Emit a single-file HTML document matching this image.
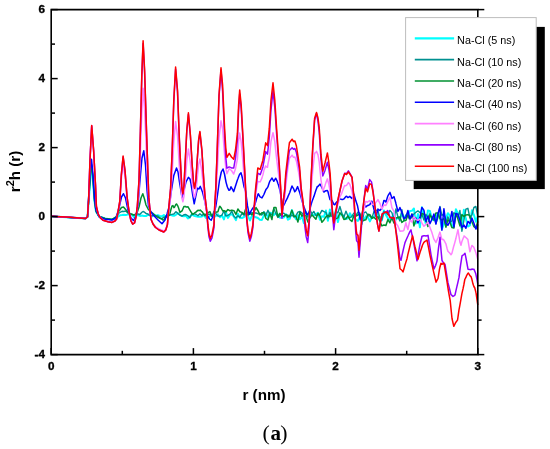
<!DOCTYPE html>
<html><head><meta charset="utf-8"><title>r2h(r)</title>
<style>
html,body{margin:0;padding:0;background:#fff;}
body{width:550px;height:449px;overflow:hidden;font-family:"Liberation Sans",sans-serif;}
svg{display:block;}
svg text{font-family:"Liberation Sans",sans-serif;font-weight:bold;font-size:11.7px;fill:#000;}
svg g.tl text{stroke:#000;stroke-width:0.35px;}
svg text.lg{font-weight:normal;font-size:10.8px;}
svg text.ttl{font-size:15.2px;}
svg text.cap{font-family:"Liberation Serif",serif;font-weight:normal;font-size:18.5px;}
</style></head><body>
<svg width="550" height="449" viewBox="0 0 550 449">
<rect x="0" y="0" width="550" height="449" fill="#fff"/>
<g>
<path d="M51.2,216.3 L85.6,218.4 L87.5,217.0 L89.0,197.0 L90.5,176.0 L91.7,168.0 L93.0,181.0 L94.5,201.0 L96.0,211.5 L99.0,216.5 L105.0,218.5 L112.0,219.5 L115.9,218.0 L116.0,218.0 L117.9,216.6 L119.9,215.4 L120.0,215.3 L121.9,215.1 L123.9,214.8 L124.0,214.8 L125.9,215.1 L127.9,214.4 L129.9,214.2 L130.0,214.2 L131.9,214.7 L133.9,217.1 L135.9,215.6 L137.9,215.0 L139.9,215.9 L141.9,215.6 L143.9,216.0 L145.9,216.1 L147.9,214.8 L149.9,214.9 L151.9,216.5 L153.9,214.7 L155.9,215.8 L157.9,215.1 L159.9,216.0 L161.9,216.4 L163.9,215.0 L165.9,216.8 L167.9,214.9 L169.9,214.9 L171.9,215.4 L173.9,215.8 L175.9,214.8 L177.9,213.2 L179.9,214.8 L181.9,216.0 L183.9,216.3 L185.9,215.8 L187.9,218.5 L189.9,216.5 L191.9,214.7 L193.9,215.7 L195.9,216.3 L197.9,216.7 L199.9,216.8 L201.9,216.5 L203.9,215.0 L205.9,217.9 L207.9,217.5 L209.9,215.9 L211.9,215.2 L213.9,217.0 L215.9,215.9 L217.9,214.2 L219.9,217.3 L221.9,215.6 L223.9,219.4 L225.9,212.1 L227.9,217.9 L229.9,214.9 L231.9,214.2 L233.9,216.7 L235.9,220.1 L237.9,213.7 L239.9,217.8 L241.9,218.1 L243.9,217.0 L245.9,214.7 L247.9,215.5 L249.9,220.5 L251.9,215.6 L253.9,216.6 L255.9,217.2 L257.9,218.0 L259.9,219.7 L261.9,219.9 L263.9,215.4 L265.9,213.3 L267.9,217.3 L269.9,212.6 L271.9,213.4 L273.9,214.9 L275.9,213.1 L277.9,214.4 L279.9,217.7 L281.9,217.7 L283.9,217.4 L285.9,214.2 L287.9,219.7 L289.9,218.6 L291.9,210.1 L293.9,215.4 L295.9,219.1 L297.9,215.2 L299.9,219.3 L301.9,216.2 L303.9,223.2 L305.9,215.6 L307.9,213.5 L309.9,216.4 L311.9,214.0 L313.9,215.2 L315.9,214.2 L317.9,212.7 L319.9,219.7 L321.9,216.2 L323.9,216.9 L325.9,210.5 L327.9,220.8 L329.9,209.5 L331.9,215.4 L333.9,216.4 L335.9,210.2 L337.9,222.0 L339.9,213.9 L341.9,214.2 L343.9,216.9 L345.9,219.2 L347.9,218.3 L349.9,213.2 L351.9,216.9 L353.9,216.0 L355.9,220.0 L357.9,220.9 L359.9,216.4 L361.9,217.6 L363.9,220.1 L365.9,216.3 L367.9,217.2 L369.9,221.4 L371.9,217.0 L373.9,217.6 L375.9,213.8 L377.9,214.7 L379.9,216.6 L381.9,220.4 L383.9,210.5 L385.9,215.0 L387.9,218.2 L389.9,219.8 L391.9,217.2 L393.9,213.7 L395.9,219.7 L397.9,217.3 L399.9,218.7 L400.0,218.4 L401.9,213.2 L403.9,217.7 L405.9,215.6 L407.9,214.7 L409.9,210.9 L411.9,210.8 L413.9,208.5 L415.9,223.6 L417.9,213.9 L419.9,227.3 L421.9,207.3 L423.9,216.0 L425.9,224.2 L427.9,210.6 L429.9,210.9 L431.9,219.3 L433.9,220.3 L435.9,217.9 L437.9,213.3 L439.9,217.0 L441.9,229.1 L443.9,224.2 L445.9,218.4 L447.9,213.2 L449.9,215.9 L451.9,227.2 L453.9,224.5 L455.9,209.2 L457.9,213.7 L459.9,221.6 L461.9,229.0 L463.9,209.7 L465.9,219.1 L467.9,226.5 L469.9,225.4 L471.9,210.3 L473.9,214.8 L475.9,221.7 L477.8,216.0" fill="none" stroke="#00ffff" stroke-width="2.0" stroke-linejoin="round"/>
<path d="M51.2,216.3 L85.6,218.4 L87.5,217.0 L89.0,196.0 L90.5,174.0 L91.7,166.0 L93.0,180.0 L94.5,201.0 L96.0,211.5 L99.0,216.5 L105.0,218.5 L112.0,219.5 L115.9,217.5 L116.0,217.5 L117.9,214.6 L119.0,213.0 L119.9,212.5 L121.9,211.3 L122.0,211.2 L123.9,211.5 L125.0,211.1 L125.9,211.2 L127.9,213.0 L128.0,213.0 L129.9,214.0 L131.9,214.3 L132.0,214.3 L133.9,215.3 L135.9,214.3 L137.0,214.2 L137.9,213.8 L139.9,214.5 L140.0,214.3 L141.9,212.3 L143.0,211.5 L143.9,211.7 L145.9,213.4 L146.0,213.5 L147.9,214.0 L149.9,215.6 L150.0,215.6 L151.9,215.8 L153.9,215.4 L155.9,215.7 L157.9,216.0 L158.0,216.1 L159.9,218.0 L161.9,218.8 L163.9,216.9 L165.0,217.3 L165.9,217.3 L167.9,216.5 L169.9,215.0 L170.0,214.9 L171.9,214.4 L173.9,214.0 L175.9,211.8 L176.0,211.8 L177.9,213.4 L179.9,215.2 L181.9,216.1 L182.0,216.1 L183.9,214.7 L185.9,214.5 L187.9,215.8 L189.9,217.7 L191.9,213.7 L193.9,213.9 L195.9,214.3 L197.9,215.7 L199.9,213.7 L201.9,215.6 L203.9,213.8 L205.9,215.8 L207.9,214.4 L209.9,214.2 L211.9,216.2 L213.9,213.0 L215.9,213.6 L217.9,216.1 L219.9,216.1 L221.9,215.2 L223.9,211.0 L225.9,216.1 L227.9,215.4 L229.9,214.2 L231.9,211.2 L233.9,216.3 L235.9,218.1 L237.9,215.7 L239.9,217.4 L241.9,213.4 L243.9,215.1 L245.9,213.4 L247.9,212.4 L249.9,214.0 L251.9,212.7 L253.9,213.0 L255.9,213.0 L257.9,213.7 L259.9,214.0 L261.9,215.0 L263.9,211.7 L265.9,215.4 L267.9,210.2 L269.9,214.8 L271.9,214.8 L273.9,208.7 L275.9,213.7 L277.9,217.5 L279.9,215.8 L281.9,213.2 L283.9,213.1 L285.9,215.4 L287.9,215.0 L289.9,216.9 L291.9,214.9 L293.9,217.1 L295.9,215.7 L297.9,212.2 L299.9,211.5 L300.0,211.5 L301.9,212.9 L303.9,215.8 L305.9,211.8 L307.9,217.3 L309.9,209.7 L311.9,213.7 L313.9,211.5 L315.9,215.6 L317.9,215.0 L319.9,214.1 L321.9,210.4 L323.9,211.6 L325.9,212.3 L327.9,218.1 L329.9,212.4 L331.9,216.4 L333.9,218.0 L335.9,211.6 L337.9,212.8 L339.9,206.5 L341.9,213.2 L343.9,217.4 L345.9,211.1 L347.9,216.1 L349.9,217.8 L351.9,216.2 L353.9,213.0 L355.9,215.7 L357.9,212.1 L359.9,213.1 L361.9,224.2 L363.9,212.7 L365.9,212.0 L367.9,215.5 L369.9,216.0 L371.9,218.1 L373.9,211.6 L375.9,210.3 L377.9,210.6 L379.9,218.2 L381.9,219.7 L383.9,211.5 L385.9,212.6 L387.9,214.8 L389.9,210.4 L391.9,212.6 L393.9,219.5 L395.9,209.0 L397.9,216.8 L399.9,220.9 L400.0,220.3 L401.9,209.6 L403.9,220.7 L405.9,215.2 L407.9,212.5 L409.9,219.9 L411.9,215.8 L413.9,214.1 L415.9,212.3 L417.9,210.9 L419.9,212.5 L421.9,214.3 L423.9,220.1 L425.9,214.4 L427.9,217.6 L429.9,213.7 L431.9,218.8 L433.9,215.7 L435.9,223.5 L437.9,217.7 L439.9,206.5 L441.9,215.6 L443.9,213.8 L445.9,222.2 L447.9,216.7 L449.9,221.8 L451.9,221.2 L453.9,212.7 L455.9,214.9 L457.9,217.1 L459.9,210.4 L461.9,231.2 L463.9,220.3 L465.9,209.2 L467.9,208.3 L469.9,218.0 L471.9,214.9 L473.9,207.5 L475.9,206.5 L477.8,217.1" fill="none" stroke="#009090" stroke-width="1.4" stroke-linejoin="round"/>
<path d="M51.2,216.3 L85.6,218.4 L87.5,217.0 L89.0,195.0 L90.5,172.0 L91.7,164.7 L93.0,178.0 L94.5,200.0 L96.0,211.0 L99.0,216.5 L105.0,218.5 L112.0,219.5 L116.0,217.0 L119.0,211.0 L121.5,207.5 L123.5,207.0 L126.0,210.0 L128.0,212.5 L131.0,214.0 L134.0,215.0 L137.0,213.0 L139.0,207.0 L141.0,198.0 L142.8,193.7 L144.5,199.0 L146.0,205.0 L148.2,209.2 L151.0,212.0 L151.9,212.7 L153.7,214.1 L153.9,214.2 L155.9,216.1 L157.9,217.3 L158.0,217.4 L159.9,218.3 L161.9,219.0 L162.8,219.9 L163.9,219.8 L165.9,216.2 L166.0,216.1 L167.9,215.7 L169.2,215.2 L169.9,213.5 L171.0,209.2 L171.9,206.2 L172.9,205.5 L173.9,207.6 L174.5,207.3 L175.9,204.3 L176.5,204.0 L177.9,206.2 L178.5,207.7 L179.9,212.3 L180.0,212.4 L181.9,210.9 L182.0,211.0 L183.9,206.6 L184.0,206.5 L185.7,206.4 L185.9,206.9 L187.5,206.8 L187.9,206.7 L189.9,210.1 L190.2,210.6 L191.9,213.4 L192.9,214.4 L193.9,213.5 L195.0,212.7 L195.9,212.1 L197.5,210.6 L197.9,210.3 L199.9,210.4 L200.3,210.0 L201.9,211.7 L202.5,212.2 L203.9,214.6 L204.8,215.6 L205.9,214.1 L207.9,213.1 L208.5,212.3 L209.9,211.6 L211.9,216.2 L213.0,214.6 L213.9,211.4 L215.8,212.1 L215.9,212.2 L217.9,211.7 L219.4,206.9 L219.9,206.3 L221.0,207.7 L221.9,209.3 L223.0,211.1 L223.9,210.6 L225.0,210.9 L225.9,211.9 L227.9,209.5 L228.5,209.9 L229.9,210.8 L231.9,210.1 L233.9,210.7 L235.9,214.4 L237.9,209.0 L239.9,211.7 L241.9,212.4 L243.9,214.2 L245.9,208.2 L247.9,215.1 L249.9,213.3 L251.9,214.7 L253.9,212.4 L255.9,207.5 L257.9,210.5 L259.9,214.9 L260.0,214.8 L261.9,212.8 L263.9,212.7 L265.9,218.5 L267.9,220.0 L269.9,213.3 L271.9,219.6 L273.9,207.5 L275.9,207.4 L277.9,216.8 L279.9,213.4 L281.9,216.3 L283.9,216.3 L285.9,214.5 L287.9,217.2 L289.9,215.6 L291.9,210.2 L293.9,216.2 L295.9,216.3 L297.9,222.0 L299.9,212.2 L300.0,212.4 L301.9,216.1 L303.9,214.7 L305.9,215.8 L307.9,222.0 L309.9,217.7 L311.9,214.8 L313.9,217.1 L315.9,219.3 L317.9,213.2 L319.9,215.8 L321.9,222.2 L323.9,219.9 L325.9,216.8 L327.9,215.4 L329.9,216.6 L331.9,211.7 L333.9,220.6 L335.9,218.6 L337.9,217.9 L339.9,212.8 L340.0,212.9 L341.9,215.0 L343.9,219.5 L345.9,218.7 L347.9,216.0 L349.9,219.7 L351.9,221.4 L353.9,215.5 L355.9,216.1 L357.9,215.0 L359.9,214.0 L361.9,221.3 L363.9,220.3 L365.9,219.7 L367.9,214.2 L369.9,214.7 L371.9,218.4 L373.9,217.2 L375.9,219.3 L377.9,216.3 L379.9,221.5 L380.0,221.7 L381.9,225.9 L383.9,225.0 L385.9,225.4 L387.9,219.5 L389.9,222.8 L391.9,217.8 L393.9,223.0 L395.9,217.9 L397.9,217.5 L399.9,216.9 L401.9,222.4 L403.9,220.7 L405.9,220.4 L407.9,215.0 L409.9,220.3 L411.9,213.9 L413.9,226.0 L415.9,219.4 L417.9,220.8 L419.9,219.6 L420.0,219.2 L421.9,213.4 L423.9,214.3 L425.9,220.0 L427.9,226.5 L429.9,215.4 L431.9,217.2 L433.9,220.0 L435.9,213.0 L437.9,213.0 L439.9,218.6 L441.9,220.2 L443.9,218.7 L445.9,227.2 L447.9,219.8 L449.9,222.1 L451.9,227.6 L453.9,228.1 L455.9,213.5 L457.9,219.0 L459.9,225.9 L461.9,214.5 L463.9,216.6 L465.9,214.9 L467.9,214.7 L469.9,215.7 L471.9,221.7 L473.9,226.7 L475.9,228.0 L477.8,221.4" fill="none" stroke="#009030" stroke-width="1.5" stroke-linejoin="round"/>
<path d="M51.2,216.3 L85.6,218.4 L87.5,217.0 L88.8,195.0 L90.2,170.0 L91.5,159.3 L93.0,175.0 L94.5,198.0 L96.0,210.0 L99.0,216.5 L104.0,219.0 L112.0,220.0 L116.0,218.0 L119.0,208.0 L121.5,197.0 L123.5,193.7 L125.5,198.0 L128.0,210.0 L131.0,218.0 L133.5,220.5 L136.0,216.0 L138.0,205.0 L140.0,180.0 L142.0,158.0 L143.8,150.8 L145.5,165.0 L147.0,190.0 L148.5,206.0 L151.0,212.0 L153.7,215.6 L158.0,220.0 L162.0,223.8 L165.0,220.0 L167.0,214.0 L169.2,206.5 L171.5,190.0 L173.8,175.5 L176.5,167.9 L178.0,172.0 L179.3,181.0 L180.8,190.0 L182.0,197.4 L184.0,190.0 L186.0,182.0 L188.4,177.3 L190.0,179.0 L191.0,183.7 L192.7,195.0 L194.2,203.8 L196.0,195.0 L197.5,188.2 L199.0,189.0 L200.3,186.4 L202.5,192.0 L204.8,201.0 L207.5,215.6 L209.5,219.0 L211.2,220.2 L213.5,215.0 L215.8,206.5 L217.5,195.0 L219.4,181.0 L221.3,172.0 L223.0,169.0 L224.5,174.0 L225.9,181.5 L226.0,182.1 L227.3,186.8 L227.9,188.1 L229.0,190.3 L229.9,189.8 L230.0,189.7 L231.0,186.8 L231.9,188.3 L232.5,189.3 L233.7,191.6 L233.9,191.0 L235.5,186.1 L235.9,184.7 L237.4,180.0 L237.9,178.8 L239.5,174.6 L239.9,174.0 L241.0,172.8 L241.9,176.0 L242.5,178.5 L243.9,186.2 L244.0,186.7 L245.6,191.1 L245.9,193.4 L247.5,205.9 L247.9,207.8 L249.2,214.4 L249.9,213.2 L251.9,209.5 L252.0,209.4 L253.9,206.6 L254.7,205.0 L255.9,201.2 L256.5,198.9 L257.9,194.5 L258.4,193.8 L259.9,196.7 L260.5,197.1 L261.9,197.7 L262.0,197.9 L263.9,194.5 L264.0,194.2 L265.9,189.6 L266.6,188.8 L267.9,186.9 L269.0,183.5 L269.9,181.1 L271.9,178.1 L272.0,178.0 L273.8,181.3 L273.9,181.1 L275.7,178.2 L275.9,178.7 L277.0,180.8 L277.9,183.5 L278.4,184.7 L279.9,190.2 L281.2,197.1 L281.9,201.1 L283.0,206.6 L283.9,204.9 L285.0,202.8 L285.9,200.9 L287.6,197.7 L287.9,196.6 L289.9,192.2 L290.0,191.7 L291.9,186.2 L292.0,186.0 L293.9,189.4 L294.7,191.7 L295.9,190.4 L297.6,186.6 L297.9,187.4 L299.5,192.0 L299.9,193.2 L301.2,197.9 L301.9,200.6 L303.9,206.7 L304.0,207.0 L305.9,212.1 L306.7,214.5 L307.9,214.0 L309.0,212.7 L309.9,209.2 L311.0,204.8 L311.9,201.7 L313.7,196.9 L313.9,196.4 L315.9,190.2 L317.4,186.4 L317.9,186.5 L319.9,184.2 L320.0,184.1 L321.9,187.5 L322.0,187.8 L323.8,191.9 L323.9,192.0 L325.9,190.7 L327.4,190.5 L327.9,191.5 L329.9,199.4 L330.0,199.6 L331.9,200.4 L332.5,201.5 L333.9,204.4 L334.7,204.8 L335.9,203.0 L337.0,201.7 L337.9,200.6 L339.3,199.2 L339.9,198.9 L341.9,199.5 L343.0,199.4 L343.9,198.9 L345.9,196.5 L346.6,196.3 L347.9,197.6 L349.9,196.3 L350.2,196.9 L351.9,198.4 L353.9,194.1 L355.9,201.1 L357.5,205.7 L357.9,207.9 L359.9,217.9 L360.3,219.9 L361.9,216.1 L363.0,209.0 L363.9,204.6 L365.9,206.9 L367.6,205.4 L367.9,205.5 L369.9,204.6 L371.2,201.4 L371.9,201.3 L373.9,209.1 L374.0,209.5 L375.9,216.1 L377.6,211.1 L377.9,209.1 L379.9,210.5 L381.2,209.0 L381.9,208.7 L383.9,200.4 L384.9,200.8 L385.9,202.1 L387.9,195.7 L388.0,195.7 L389.9,192.6 L390.0,192.4 L391.9,198.0 L392.0,198.5 L393.9,196.9 L394.0,196.6 L395.9,203.3 L396.0,203.9 L397.9,211.2 L399.0,209.7 L399.9,207.5 L401.9,212.4 L403.0,215.8 L403.9,218.2 L405.9,217.7 L407.0,214.0 L407.9,210.5 L409.9,219.1 L411.9,214.2 L413.9,218.3 L415.9,218.1 L417.9,223.0 L419.9,217.6 L421.9,207.4 L423.9,210.1 L425.9,221.3 L427.9,216.2 L429.9,223.8 L431.9,219.4 L433.9,214.0 L435.9,224.1 L437.9,213.9 L439.9,207.3 L440.0,208.4 L441.9,230.2 L443.9,208.7 L445.9,223.2 L447.9,225.3 L449.9,221.3 L451.9,211.4 L453.9,227.0 L455.9,213.4 L457.9,214.3 L459.9,220.3 L461.9,227.4 L463.9,225.0 L465.9,228.3 L467.9,221.4 L469.9,223.4 L471.9,218.1 L473.9,223.3 L475.9,229.1 L477.8,224.4" fill="none" stroke="#0000ff" stroke-width="1.5" stroke-linejoin="round"/>
<path d="M51.2,216.3 L70.0,217.3 L85.6,218.4 L87.5,217.0 L88.6,200.0 L90.0,160.0 L91.7,125.5 L93.6,150.0 L95.5,185.0 L96.4,206.5 L98.2,214.0 L100.2,217.6 L103.0,220.1 L108.0,221.6 L112.0,222.0 L115.0,220.7 L116.6,218.8 L118.0,212.3 L119.8,202.6 L121.3,179.6 L123.1,163.3 L125.0,176.3 L127.1,199.9 L129.1,212.4 L131.0,220.7 L132.7,223.6 L134.5,222.5 L136.0,217.0 L137.3,208.3 L139.0,188.7 L140.4,151.7 L141.8,112.0 L143.1,88.3 L144.6,110.2 L146.5,154.2 L148.0,186.8 L148.8,202.8 L150.1,211.8 L151.0,219.1 L153.0,223.5 L155.5,226.7 L159.0,229.0 L163.8,230.9 L165.8,229.0 L167.4,224.1 L168.9,209.1 L170.6,197.9 L172.2,173.5 L173.8,141.8 L175.6,121.5 L177.5,135.8 L179.4,167.5 L181.0,187.9 L181.9,198.1 L182.9,201.8 L184.0,196.1 L185.3,179.9 L186.8,160.4 L188.4,149.0 L190.4,163.1 L192.2,182.5 L193.6,194.3 L194.6,197.6 L195.9,192.1 L197.2,178.6 L198.6,164.9 L199.9,158.9 L201.9,171.7 L203.7,191.3 L205.1,203.4 L206.3,209.0 L207.9,224.1 L209.0,232.8 L210.3,236.9 L212.0,233.7 L214.0,224.1 L214.7,208.9 L215.8,197.9 L217.2,173.3 L219.0,137.9 L221.0,120.8 L222.6,129.0 L224.6,155.3 L225.8,167.9 L226.9,173.7 L229.2,168.8 L231.5,170.5 L233.7,174.0 L235.5,168.7 L237.4,159.2 L238.6,141.2 L239.7,133.0 L241.2,142.2 L241.9,150.4 L242.8,160.8 L243.9,174.6 L244.7,184.7 L245.6,196.8 L245.9,203.1 L246.5,215.6 L247.9,228.3 L248.0,229.2 L249.8,237.0 L249.9,236.8 L251.3,233.1 L251.9,229.9 L252.9,224.4 L253.9,213.3 L254.7,204.2 L255.6,195.3 L255.9,193.0 L257.8,181.3 L257.9,181.4 L259.9,181.7 L260.2,181.9 L261.9,178.1 L262.9,174.9 L263.9,170.3 L265.7,165.9 L265.9,166.5 L267.5,167.3 L267.9,164.4 L269.3,157.6 L269.9,152.3 L271.0,141.3 L271.9,137.4 L273.0,132.7 L273.9,136.8 L274.8,141.7 L275.9,152.4 L276.6,158.5 L277.9,169.2 L278.0,170.0 L279.3,179.4 L279.9,185.6 L280.7,194.9 L281.9,212.4 L282.0,213.9 L283.4,204.5 L283.9,201.7 L284.8,196.6 L285.7,186.4 L285.9,185.1 L287.5,171.0 L287.9,167.6 L289.4,158.3 L289.9,157.7 L291.9,155.6 L292.1,155.2 L293.5,157.3 L293.9,157.3 L294.9,157.1 L295.9,159.8 L296.4,161.2 L297.9,168.6 L299.6,177.6 L299.9,180.6 L301.2,194.5 L301.9,198.6 L302.5,201.9 L303.5,208.2 L303.9,211.7 L304.9,219.4 L305.9,224.9 L306.2,226.9 L307.7,232.6 L307.9,230.7 L309.0,221.0 L309.9,210.6 L310.0,209.3 L311.0,192.4 L311.9,181.0 L312.8,169.9 L313.9,159.7 L314.6,153.4 L315.9,152.2 L316.5,151.4 L317.9,154.6 L318.0,154.9 L319.2,162.0 L319.9,169.2 L321.0,180.0 L321.9,185.4 L322.8,190.8 L323.9,188.6 L325.0,185.5 L325.9,182.6 L327.4,178.9 L327.9,180.7 L328.8,184.2 L329.9,190.0 L330.1,191.0 L331.9,210.1 L332.0,211.1 L333.8,224.0 L333.9,223.5 L335.9,213.0 L336.0,212.4 L337.9,204.4 L338.4,202.6 L339.9,196.8 L341.9,192.9 L342.0,192.5 L343.9,187.3 L344.7,185.6 L345.9,185.7 L346.5,185.4 L347.9,183.3 L348.4,182.6 L349.9,184.5 L350.2,185.4 L351.9,190.7 L352.0,190.8 L353.9,204.1 L355.7,223.1 L355.9,224.8 L356.6,232.0 L357.9,234.5 L358.0,234.6 L359.0,248.3 L359.9,238.1 L360.5,231.3 L361.9,217.3 L362.0,216.4 L363.9,210.3 L364.0,209.7 L365.7,201.4 L365.9,201.4 L367.5,202.4 L367.9,201.6 L369.7,200.6 L369.9,201.1 L371.5,202.4 L371.9,203.7 L372.0,204.2 L373.9,204.6 L375.0,203.7 L375.9,202.2 L377.9,199.9 L378.0,199.6 L379.9,203.3 L380.0,203.8 L381.9,208.9 L382.0,208.9 L383.9,204.9 L385.9,205.4 L386.0,205.2 L387.9,201.4 L389.9,197.3 L390.0,197.4 L391.9,207.6 L393.0,209.6 L393.9,211.2 L395.9,223.4 L396.0,223.6 L397.9,225.9 L399.9,231.0 L400.0,231.2 L401.9,230.9 L403.0,231.0 L403.9,230.2 L405.9,222.7 L407.0,227.0 L407.9,229.5 L409.9,220.0 L410.0,220.0 L411.9,222.1 L413.0,218.2 L413.9,216.8 L415.9,219.5 L416.0,219.6 L417.9,220.3 L419.9,219.0 L420.0,219.2 L421.9,222.9 L423.9,226.3 L424.0,226.2 L425.9,224.3 L427.9,222.3 L428.0,222.4 L429.9,227.2 L431.9,232.6 L432.0,232.9 L433.9,239.2 L435.9,242.3 L436.0,242.4 L437.9,238.0 L438.0,237.7 L439.9,232.1 L440.0,232.3 L441.9,239.6 L443.0,239.3 L443.9,240.1 L445.9,243.8 L447.0,248.2 L447.9,251.2 L449.9,253.3 L451.0,254.7 L451.9,253.4 L453.9,245.5 L454.0,245.5 L455.9,238.5 L456.0,237.9 L457.9,229.8 L458.0,229.9 L459.9,242.0 L461.0,245.3 L461.9,241.5 L463.9,236.4 L464.0,235.9 L465.9,237.5 L467.0,238.6 L467.9,239.6 L469.9,251.8 L470.0,251.5 L471.9,245.4 L472.0,245.5 L473.9,247.4 L475.9,252.8 L476.0,253.1 L477.8,259.6" fill="none" stroke="#ff80ff" stroke-width="1.5" stroke-linejoin="round"/>
<path d="M51.2,216.3 L70.0,217.3 L85.6,218.4 L87.5,217.0 L88.6,200.0 L90.0,160.1 L91.7,125.9 L93.6,150.5 L95.5,185.3 L96.4,206.6 L98.2,214.0 L100.2,217.6 L103.0,220.2 L108.0,221.8 L112.0,222.4 L115.0,221.0 L116.6,219.0 L118.0,212.1 L119.8,201.2 L121.3,175.6 L123.1,156.9 L125.0,170.7 L127.1,197.3 L129.1,212.1 L131.0,221.0 L132.7,224.2 L134.5,223.0 L136.0,217.0 L137.3,206.6 L139.0,180.5 L140.4,131.3 L141.8,77.1 L143.1,43.4 L144.6,72.2 L146.5,131.3 L148.0,175.6 L148.8,197.7 L150.1,211.1 L151.0,219.3 L153.0,224.0 L155.5,227.5 L159.0,230.0 L163.8,232.0 L165.8,230.0 L167.4,224.7 L168.9,206.6 L170.6,188.4 L172.2,151.0 L173.8,101.7 L175.6,69.2 L177.5,91.9 L179.4,141.1 L181.0,172.7 L181.9,188.4 L182.9,194.0 L184.0,185.5 L185.3,160.8 L186.8,131.3 L188.4,114.4 L190.4,136.2 L192.2,165.8 L193.6,183.5 L194.6,188.6 L195.9,180.5 L197.2,160.8 L198.6,141.1 L199.9,132.7 L201.9,151.0 L203.7,179.6 L205.1,197.3 L206.3,206.7 L207.9,227.5 L209.0,236.8 L210.3,241.2 L212.0,237.8 L214.0,227.5 L214.7,206.2 L215.8,188.4 L217.2,151.0 L219.0,96.8 L221.0,70.0 L222.6,91.4 L224.6,136.3 L225.8,157.2 L226.9,168.2 L229.2,166.9 L231.5,167.9 L233.7,168.1 L235.5,157.9 L237.4,140.2 L238.6,110.9 L239.7,93.9 L241.2,108.9 L242.8,137.0 L244.7,172.1 L245.6,189.4 L246.5,217.2 L248.0,232.8 L249.8,241.2 L251.3,236.8 L252.9,227.5 L254.7,201.5 L255.6,191.2 L257.8,173.1 L260.2,174.7 L262.9,166.9 L265.7,151.6 L267.5,154.1 L269.3,137.4 L271.0,109.8 L273.0,90.8 L274.8,107.3 L276.6,134.0 L278.0,152.7 L279.3,168.4 L280.7,190.2 L282.0,218.3 L283.4,201.4 L284.8,190.8 L285.7,177.9 L287.5,163.9 L289.4,150.5 L292.1,147.7 L293.5,149.3 L294.9,148.5 L296.4,152.6 L297.9,160.9 L299.6,171.0 L301.2,190.3 L302.5,198.8 L303.5,207.4 L304.9,227.0 L306.2,236.9 L307.7,242.6 L309.0,228.4 L310.0,207.2 L311.0,181.9 L312.8,148.1 L314.6,120.4 L316.5,113.4 L318.0,121.3 L319.2,132.0 L321.0,159.6 L322.8,176.0 L325.0,170.4 L327.4,162.3 L328.8,169.0 L330.1,177.8 L332.0,207.6 L333.8,229.7 L336.0,212.0 L338.4,198.0 L342.0,181.3 L344.7,173.2 L346.5,173.6 L348.4,170.8 L350.2,173.8 L352.0,177.1 L353.9,197.4 L355.7,231.6 L356.6,240.8 L358.0,242.4 L359.0,257.2 L360.5,238.9 L362.0,219.5 L364.0,199.2 L365.7,185.6 L367.5,188.9 L369.7,179.6 L371.5,181.9 L373.0,190.8 L374.9,206.1 L377.6,224.7 L378.9,231.1 L380.5,222.0 L382.2,213.8 L385.0,212.1 L385.9,212.6 L387.6,210.5 L387.9,211.0 L389.9,216.9 L390.0,217.2 L391.9,217.6 L392.0,217.6 L393.9,218.4 L394.0,218.6 L395.9,230.1 L397.0,236.7 L397.9,243.2 L399.9,258.2 L400.0,258.9 L401.0,260.3 L401.9,255.8 L403.0,251.0 L403.9,247.1 L405.0,242.6 L405.9,240.5 L407.9,236.0 L408.0,235.7 L409.9,231.6 L411.0,229.9 L411.9,234.3 L413.0,238.8 L413.9,243.9 L415.0,250.0 L415.9,254.6 L417.0,260.8 L417.9,256.2 L419.5,246.8 L419.9,244.8 L421.9,236.8 L422.0,236.3 L423.9,235.7 L425.0,235.8 L425.9,235.9 L427.9,235.5 L428.0,235.4 L429.5,244.8 L429.9,247.3 L431.0,254.6 L431.9,259.1 L433.9,268.4 L434.0,269.0 L435.5,265.7 L435.9,264.6 L437.0,261.1 L437.9,253.4 L438.5,248.2 L439.9,238.0 L440.0,237.3 L441.0,249.8 L441.9,259.4 L442.0,260.5 L443.9,263.7 L445.0,264.1 L445.9,269.8 L446.5,273.6 L447.9,282.3 L448.0,282.9 L449.9,290.2 L451.0,294.7 L451.9,295.4 L453.0,296.5 L453.9,295.9 L455.0,295.0 L455.9,290.9 L457.0,286.2 L457.9,282.3 L459.0,277.4 L459.9,270.3 L460.5,265.7 L461.9,256.6 L462.0,255.9 L463.9,254.5 L465.0,253.3 L465.9,257.7 L466.5,261.0 L467.9,268.7 L468.0,269.2 L469.9,269.4 L471.0,269.7 L471.9,269.0 L473.9,269.4 L474.0,269.3 L475.5,273.0 L475.9,274.3 L477.0,279.6 L477.8,284.3" fill="none" stroke="#9000ff" stroke-width="1.5" stroke-linejoin="round"/>
<path d="M51.2,216.3 L70.0,217.3 L85.6,218.4 L87.5,217.0 L88.6,200.0 L90.0,160.0 L91.7,125.5 L93.6,150.0 L95.5,185.0 L96.4,206.5 L98.2,214.0 L100.2,217.6 L103.0,220.2 L108.0,221.8 L112.0,222.4 L115.0,221.0 L116.6,219.0 L118.0,212.0 L119.8,201.0 L121.3,175.0 L123.1,156.0 L125.0,170.0 L127.1,197.0 L129.1,212.0 L131.0,221.0 L132.7,224.2 L134.5,223.0 L136.0,217.0 L137.3,206.5 L139.0,180.0 L140.4,130.0 L141.8,75.0 L143.1,40.8 L144.6,70.0 L146.5,130.0 L148.0,175.0 L148.8,197.4 L150.1,211.0 L151.0,219.3 L153.0,224.0 L155.5,227.5 L159.0,230.0 L163.8,232.0 L165.8,230.0 L167.4,224.7 L168.9,206.5 L170.6,188.0 L172.2,150.0 L173.8,100.0 L175.6,67.0 L177.5,90.0 L179.4,140.0 L181.0,172.0 L181.9,188.0 L182.9,193.7 L184.0,185.0 L185.3,160.0 L186.8,130.0 L188.4,112.8 L190.4,135.0 L192.2,165.0 L193.6,183.0 L194.6,188.2 L195.9,180.0 L197.2,160.0 L198.6,140.0 L199.9,131.4 L201.9,150.0 L203.7,179.0 L205.1,197.0 L206.3,206.5 L207.9,224.7 L209.0,234.0 L210.3,238.4 L212.0,235.0 L214.0,224.7 L214.7,206.0 L215.8,188.0 L217.2,150.0 L219.0,95.0 L221.0,67.8 L222.6,85.0 L224.6,128.2 L225.8,148.0 L226.9,157.5 L229.2,153.4 L231.5,157.0 L233.7,159.3 L235.5,150.0 L237.4,133.7 L238.6,105.0 L239.7,90.1 L241.2,105.0 L242.8,133.7 L244.7,170.0 L245.6,188.0 L246.5,215.6 L248.0,230.0 L249.8,238.4 L251.3,234.0 L252.9,224.7 L254.7,200.0 L255.6,188.5 L257.8,168.0 L260.2,169.3 L262.9,160.2 L265.7,142.8 L267.5,145.6 L269.3,128.2 L271.0,100.0 L273.0,82.8 L274.8,100.0 L276.6,128.2 L278.0,148.0 L279.3,164.7 L280.7,188.0 L282.0,214.7 L283.4,200.0 L284.8,188.2 L285.7,173.9 L287.5,158.0 L289.4,142.8 L292.1,139.2 L293.5,141.5 L294.9,141.0 L296.4,146.0 L297.9,155.6 L299.6,167.0 L301.2,188.2 L302.5,197.4 L303.5,206.5 L304.9,221.0 L306.2,230.0 L307.7,235.7 L309.0,222.0 L310.0,206.5 L311.0,180.3 L312.8,145.6 L314.6,118.2 L316.5,112.4 L318.0,118.0 L319.2,127.4 L321.0,154.7 L322.8,171.2 L325.0,163.0 L327.4,152.9 L328.8,162.0 L330.1,173.0 L332.0,206.5 L333.8,222.9 L336.0,210.0 L338.4,197.4 L342.0,181.0 L344.7,173.6 L346.5,174.5 L348.4,172.0 L350.2,174.5 L352.0,177.3 L353.9,197.4 L355.7,224.7 L356.6,233.9 L358.0,235.5 L359.0,250.3 L360.5,232.0 L362.0,215.6 L364.0,200.0 L365.7,188.2 L367.5,191.8 L369.7,183.7 L371.5,184.6 L373.0,192.0 L374.9,206.5 L377.6,224.7 L378.9,231.1 L380.5,222.0 L382.2,213.8 L385.0,212.3 L385.9,212.0 L387.6,212.4 L387.9,213.3 L389.9,217.2 L390.0,217.5 L391.9,218.1 L392.0,217.9 L393.9,217.5 L394.0,217.7 L395.5,227.9 L395.9,231.5 L397.0,240.4 L397.9,248.6 L398.0,249.5 L399.9,267.7 L400.0,268.7 L401.9,270.3 L403.0,271.9 L403.9,269.1 L405.0,265.0 L405.9,262.1 L407.0,258.7 L407.9,254.4 L409.9,246.3 L410.0,245.8 L411.9,238.3 L412.5,235.7 L413.9,241.9 L415.0,246.9 L415.9,250.3 L417.9,259.0 L418.0,259.4 L419.9,252.9 L420.0,252.6 L421.9,247.1 L422.5,245.0 L423.9,242.3 L425.0,241.4 L425.9,240.9 L427.0,240.0 L427.9,244.5 L428.5,247.3 L429.9,254.9 L430.0,255.4 L431.9,264.2 L432.0,264.7 L433.9,273.1 L434.0,273.5 L435.9,281.7 L436.0,282.2 L437.9,278.7 L438.0,278.5 L439.5,269.2 L439.9,267.3 L441.0,263.3 L441.9,264.3 L443.9,263.1 L444.0,263.1 L445.5,272.3 L445.9,274.8 L447.0,281.6 L447.9,287.7 L448.5,291.4 L449.9,299.0 L450.2,300.7 L451.9,317.5 L452.0,318.5 L453.8,326.3 L453.9,326.1 L455.5,322.9 L455.9,322.2 L457.5,320.1 L457.9,317.6 L459.0,309.8 L459.9,305.1 L461.0,298.9 L461.9,293.7 L463.0,288.9 L463.9,284.5 L464.8,279.5 L465.9,277.4 L466.6,275.6 L467.9,273.4 L468.4,273.0 L469.9,275.7 L471.0,276.6 L471.9,279.3 L473.0,284.1 L473.9,286.5 L474.8,288.0 L475.9,292.4 L476.0,292.7 L477.8,305.1" fill="none" stroke="#ff0000" stroke-width="1.5" stroke-linejoin="round"/>
</g>
<g stroke="#000" stroke-width="1.5" fill="none">
<path d="M51.2,354.6 L51.2,9.6 L477.8,9.6 L477.8,354.6 Z" stroke-width="1.6"/>
<line x1="51.2" y1="354.6" x2="57.7" y2="354.6"/>
<line x1="477.8" y1="354.6" x2="484.3" y2="354.6"/>
<line x1="51.2" y1="320.1" x2="55.0" y2="320.1"/>
<line x1="477.8" y1="320.1" x2="481.6" y2="320.1"/>
<line x1="51.2" y1="285.6" x2="57.7" y2="285.6"/>
<line x1="477.8" y1="285.6" x2="484.3" y2="285.6"/>
<line x1="51.2" y1="251.1" x2="55.0" y2="251.1"/>
<line x1="477.8" y1="251.1" x2="481.6" y2="251.1"/>
<line x1="51.2" y1="216.6" x2="57.7" y2="216.6"/>
<line x1="477.8" y1="216.6" x2="484.3" y2="216.6"/>
<line x1="51.2" y1="182.1" x2="55.0" y2="182.1"/>
<line x1="477.8" y1="182.1" x2="481.6" y2="182.1"/>
<line x1="51.2" y1="147.6" x2="57.7" y2="147.6"/>
<line x1="477.8" y1="147.6" x2="484.3" y2="147.6"/>
<line x1="51.2" y1="113.1" x2="55.0" y2="113.1"/>
<line x1="477.8" y1="113.1" x2="481.6" y2="113.1"/>
<line x1="51.2" y1="78.6" x2="57.7" y2="78.6"/>
<line x1="477.8" y1="78.6" x2="484.3" y2="78.6"/>
<line x1="51.2" y1="44.1" x2="55.0" y2="44.1"/>
<line x1="477.8" y1="44.1" x2="481.6" y2="44.1"/>
<line x1="51.2" y1="9.6" x2="57.7" y2="9.6"/>
<line x1="477.8" y1="9.6" x2="484.3" y2="9.6"/>
<line x1="51.2" y1="354.6" x2="51.2" y2="348.1"/>
<line x1="122.3" y1="354.6" x2="122.3" y2="350.8"/>
<line x1="193.4" y1="354.6" x2="193.4" y2="348.1"/>
<line x1="264.5" y1="354.6" x2="264.5" y2="350.8"/>
<line x1="335.6" y1="354.6" x2="335.6" y2="348.1"/>
<line x1="406.7" y1="354.6" x2="406.7" y2="350.8"/>
<line x1="477.8" y1="354.6" x2="477.8" y2="348.1"/>
</g>
<g class="tl">
<text x="45.0" y="12.8" text-anchor="end">6</text>
<text x="45.0" y="81.8" text-anchor="end">4</text>
<text x="45.0" y="150.8" text-anchor="end">2</text>
<text x="45.0" y="219.8" text-anchor="end">0</text>
<text x="45.0" y="288.8" text-anchor="end">-2</text>
<text x="45.0" y="357.8" text-anchor="end">-4</text>
<text x="51.2" y="370.2" text-anchor="middle">0</text>
<text x="193.4" y="370.2" text-anchor="middle">1</text>
<text x="335.6" y="370.2" text-anchor="middle">2</text>
<text x="477.8" y="370.2" text-anchor="middle">3</text>
</g>
<text class="ttl" x="264" y="400.3" text-anchor="middle">r (nm)</text>
<text class="ttl" transform="translate(19.6,171.5) rotate(-90)" text-anchor="middle">r<tspan font-size="11" dy="-6">2</tspan><tspan dy="6">h (r)</tspan></text>
<rect x="413.7" y="26.9" width="131.1" height="162.2" fill="#000"/>
<rect x="405.6" y="17.6" width="130.6" height="162.8" fill="#fff" stroke="#bdbdbd" stroke-width="1"/>
<line x1="414.8" y1="38.3" x2="454.1" y2="38.3" stroke="#00ffff" stroke-width="2.2"/>
<text x="457.1" y="44.3" class="lg">Na-Cl (5 ns)</text>
<line x1="414.8" y1="59.6" x2="454.1" y2="59.6" stroke="#009090" stroke-width="1.6"/>
<text x="457.1" y="65.6" class="lg">Na-Cl (10 ns)</text>
<line x1="414.8" y1="81.0" x2="454.1" y2="81.0" stroke="#009030" stroke-width="1.6"/>
<text x="457.1" y="87.0" class="lg">Na-Cl (20 ns)</text>
<line x1="414.8" y1="102.3" x2="454.1" y2="102.3" stroke="#0000ff" stroke-width="1.6"/>
<text x="457.1" y="108.3" class="lg">Na-Cl (40 ns)</text>
<line x1="414.8" y1="123.6" x2="454.1" y2="123.6" stroke="#ff80ff" stroke-width="1.6"/>
<text x="457.1" y="129.6" class="lg">Na-Cl (60 ns)</text>
<line x1="414.8" y1="144.9" x2="454.1" y2="144.9" stroke="#9000ff" stroke-width="1.6"/>
<text x="457.1" y="150.9" class="lg">Na-Cl (80 ns)</text>
<line x1="414.8" y1="166.3" x2="454.1" y2="166.3" stroke="#ff0000" stroke-width="1.6"/>
<text x="457.1" y="172.3" class="lg">Na-Cl (100 ns)</text>
<text class="cap" y="440.4" text-anchor="middle"><tspan x="266.1" style="font-size:21.8px">(</tspan><tspan x="275.7" style="font-size:21px;font-weight:bold">a</tspan><tspan x="283.8" style="font-size:21.8px">)</tspan></text>
</svg>
</body></html>
